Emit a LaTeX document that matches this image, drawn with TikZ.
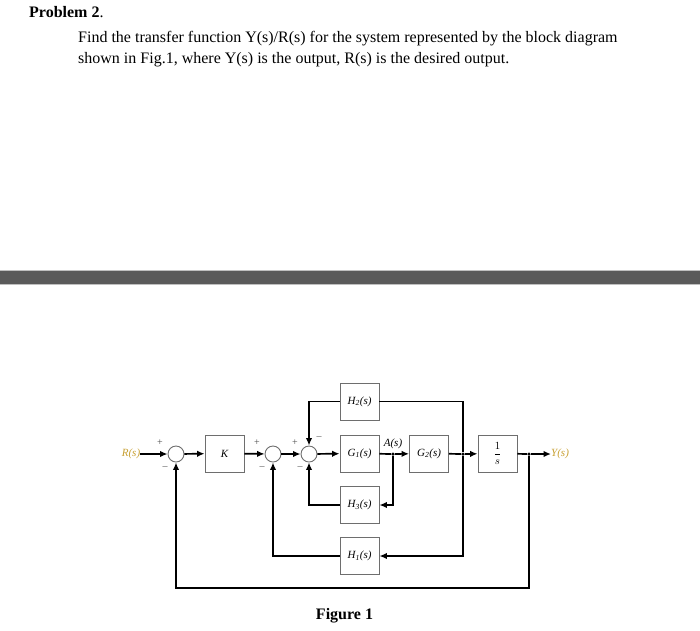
\documentclass[tikz,border=0pt]{standalone}
\usepackage{fontspec}
\setmainfont{Liberation Serif}
\usetikzlibrary{arrows.meta}
\definecolor{gold}{RGB}{200,160,50}
\definecolor{boxgray}{RGB}{110,110,110}
\definecolor{bargray}{RGB}{90,90,90}
\begin{document}
\begin{tikzpicture}[x=1pt,y=-1pt,
  blk/.style={draw=boxgray,line width=0.9pt,minimum width=39pt,minimum height=37pt,inner sep=0pt,font=\fontsize{11}{12}\selectfont\itshape},
  sumj/.style={circle,draw=boxgray,line width=0.9pt,minimum size=16pt,inner sep=0pt},
  sig/.style={inner sep=0pt,text=black!70,font=\fontsize{10}{11}\selectfont},
  wire/.style={line width=1.7pt},
  arr/.style={wire,-{Latex[length=7.5pt,width=6.5pt]}},
  dot/.style={circle,fill=black,minimum size=3.5pt,inner sep=0pt},
  lbl/.style={inner sep=0pt,font=\fontsize{11}{12}\selectfont\itshape}]
\useasboundingbox (0,0) rectangle (700,630);
\fill[white] (0,0) rectangle (700,630);
% header text
\node[anchor=base west,inner sep=0pt,font=\fontsize{16}{19}\selectfont\bfseries] (title) at (29,17) {Problem 2\textmd{.}};
\node[anchor=base west,inner sep=0pt,font=\fontsize{16}{19}\selectfont] (line1) at (78,42) {Find the transfer function Y(s)/R(s) for the system represented by the block diagram};
\node[anchor=base west,inner sep=0pt,font=\fontsize{16}{19}\selectfont] (line2) at (78,63) {shown in Fig.1, where Y(s) is the output, R(s) is the desired output.};
% bar
\fill[bargray] (0,270) rectangle (700,284);
\draw[gray!50,line width=0.8pt] (0,270) -- (700,270) (0,284) -- (700,284);
% nodes
\node[lbl,text=gold] (R) at (131,454) {R(s)};
\node[sumj] (s1) at (176,454) {};
\node[blk] (K) at (224.5,453.5) {K};
\node[sumj] (s2) at (273,454) {};
\node[sumj] (s3) at (309,454) {};
\node[blk] (G1) at (359.5,453.5) {G\textsubscript{1}(s)};
\node[blk] (H2) at (359.5,401.5) {H\textsubscript{2}(s)};
\node[blk] (H3) at (359.5,505) {H\textsubscript{3}(s)};
\node[blk] (H1) at (359.5,556) {H\textsubscript{1}(s)};
\node[dot] (A) at (393,454) {};
\node[blk] (G2) at (429,453.5) {G\textsubscript{2}(s)};
\node[dot] (B) at (463,454) {};
\node[blk,font=\fontsize{11}{12}\selectfont] (I) at (497.5,453.5) {$\displaystyle\frac{1}{s}$};
\node[dot] (C) at (529,454) {};
\node[lbl,text=gold,anchor=west] (Y) at (551,454) {Y(s)};
\node[lbl,anchor=south] (Alab) at (393,449) {A(s)};
% signs
\node[sig] at (160,443) {+};
\node[sig] at (165,468) {\textendash};
\node[sig] at (257,443) {+};
\node[sig] at (262,468) {\textendash};
\node[sig] at (295,443) {+};
\node[sig] at (300,468) {\textendash};
\node[sig] at (319,438) {\textendash};
% forward path
\draw[arr] (R) -- (s1);
\draw[arr] (s1) -- (K);
\draw[arr] (K) -- (s2);
\draw[arr] (s2) -- (s3);
\draw[arr] (s3) -- (G1);
\draw[wire] (G1) -- (A);
\draw[arr] (A) -- (G2);
\draw[wire] (G2) -- (B);
\draw[arr] (B) -- (I);
\draw[wire] (I) -- (C);
\draw[arr] (C) -- (Y);
% feedback loops
\draw[wire] (B) |- (H2.east);
\draw[arr] (H2.west) -| (s3.north);
\draw[arr] (A) |- (H3.east);
\draw[arr] (H3.west) -| (s3.south);
\draw[arr] (B) |- (H1.east);
\draw[arr] (H1.west) -| (s2.south);
\coordinate (bot) at (529,588);
\draw[arr] (C) -- (bot) -| (s1.south);
% caption
\node[inner sep=0pt,font=\fontsize{16}{18}\selectfont\bfseries] (fig) at (344.5,616) {Figure 1};
\end{tikzpicture}
\end{document}
